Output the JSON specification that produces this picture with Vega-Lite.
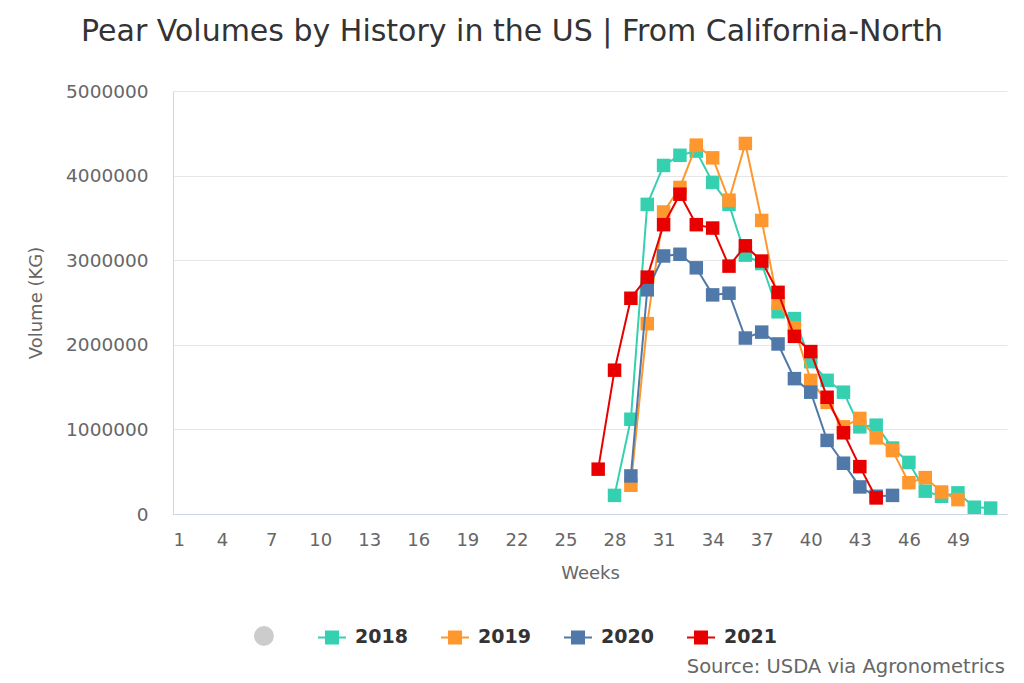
{
  "$schema": "https://vega.github.io/schema/vega-lite/v6.json",
  "width": 834,
  "height": 423,
  "autosize": {"type": "none"},
  "padding": {"left": 173, "top": 91, "right": 17, "bottom": 169},
  "background": "#ffffff",
  "title": {
    "text": "Pear Volumes by History in the US | From California-North",
    "font": "DejaVu Sans",
    "fontSize": 30,
    "fontWeight": "normal",
    "color": "#333333",
    "anchor": "middle",
    "frame": "group",
    "dx": -78,
    "offset": 35
  },
  "config": {
    "view": {"stroke": null},
    "font": "DejaVu Sans",
    "axis": {
      "labelFont": "DejaVu Sans",
      "titleFont": "DejaVu Sans",
      "labelFontSize": 18,
      "titleFontSize": 18,
      "labelColor": "#666666",
      "titleColor": "#666666",
      "titleFontWeight": "normal",
      "domainColor": "#ccd6eb",
      "domainWidth": 1,
      "ticks": false,
      "gridColor": "#e6e6e6",
      "gridWidth": 1
    }
  },
  "data": {
    "values": [
      {"year": "2018", "week": 28, "volume": 220000},
      {"year": "2018", "week": 29, "volume": 1120000},
      {"year": "2018", "week": 30, "volume": 3660000},
      {"year": "2018", "week": 31, "volume": 4120000},
      {"year": "2018", "week": 32, "volume": 4240000},
      {"year": "2018", "week": 33, "volume": 4290000},
      {"year": "2018", "week": 34, "volume": 3920000},
      {"year": "2018", "week": 35, "volume": 3660000},
      {"year": "2018", "week": 36, "volume": 3060000},
      {"year": "2018", "week": 37, "volume": 2960000},
      {"year": "2018", "week": 38, "volume": 2390000},
      {"year": "2018", "week": 39, "volume": 2310000},
      {"year": "2018", "week": 40, "volume": 1800000},
      {"year": "2018", "week": 41, "volume": 1580000},
      {"year": "2018", "week": 42, "volume": 1440000},
      {"year": "2018", "week": 43, "volume": 1030000},
      {"year": "2018", "week": 44, "volume": 1050000},
      {"year": "2018", "week": 45, "volume": 780000},
      {"year": "2018", "week": 46, "volume": 610000},
      {"year": "2018", "week": 47, "volume": 270000},
      {"year": "2018", "week": 48, "volume": 210000},
      {"year": "2018", "week": 49, "volume": 250000},
      {"year": "2018", "week": 50, "volume": 80000},
      {"year": "2018", "week": 51, "volume": 70000},
      {"year": "2019", "week": 29, "volume": 340000},
      {"year": "2019", "week": 30, "volume": 2250000},
      {"year": "2019", "week": 31, "volume": 3570000},
      {"year": "2019", "week": 32, "volume": 3860000},
      {"year": "2019", "week": 33, "volume": 4360000},
      {"year": "2019", "week": 34, "volume": 4210000},
      {"year": "2019", "week": 35, "volume": 3710000},
      {"year": "2019", "week": 36, "volume": 4380000},
      {"year": "2019", "week": 37, "volume": 3470000},
      {"year": "2019", "week": 38, "volume": 2490000},
      {"year": "2019", "week": 39, "volume": 2200000},
      {"year": "2019", "week": 40, "volume": 1580000},
      {"year": "2019", "week": 41, "volume": 1320000},
      {"year": "2019", "week": 42, "volume": 1030000},
      {"year": "2019", "week": 43, "volume": 1130000},
      {"year": "2019", "week": 44, "volume": 900000},
      {"year": "2019", "week": 45, "volume": 750000},
      {"year": "2019", "week": 46, "volume": 370000},
      {"year": "2019", "week": 47, "volume": 430000},
      {"year": "2019", "week": 48, "volume": 260000},
      {"year": "2019", "week": 49, "volume": 170000},
      {"year": "2020", "week": 29, "volume": 450000},
      {"year": "2020", "week": 30, "volume": 2650000},
      {"year": "2020", "week": 31, "volume": 3050000},
      {"year": "2020", "week": 32, "volume": 3070000},
      {"year": "2020", "week": 33, "volume": 2910000},
      {"year": "2020", "week": 34, "volume": 2590000},
      {"year": "2020", "week": 35, "volume": 2610000},
      {"year": "2020", "week": 36, "volume": 2080000},
      {"year": "2020", "week": 37, "volume": 2150000},
      {"year": "2020", "week": 38, "volume": 2010000},
      {"year": "2020", "week": 39, "volume": 1600000},
      {"year": "2020", "week": 40, "volume": 1440000},
      {"year": "2020", "week": 41, "volume": 870000},
      {"year": "2020", "week": 42, "volume": 600000},
      {"year": "2020", "week": 43, "volume": 320000},
      {"year": "2020", "week": 44, "volume": 210000},
      {"year": "2020", "week": 45, "volume": 220000},
      {"year": "2021", "week": 27, "volume": 530000},
      {"year": "2021", "week": 28, "volume": 1700000},
      {"year": "2021", "week": 29, "volume": 2550000},
      {"year": "2021", "week": 30, "volume": 2800000},
      {"year": "2021", "week": 31, "volume": 3420000},
      {"year": "2021", "week": 32, "volume": 3780000},
      {"year": "2021", "week": 33, "volume": 3420000},
      {"year": "2021", "week": 34, "volume": 3380000},
      {"year": "2021", "week": 35, "volume": 2930000},
      {"year": "2021", "week": 36, "volume": 3170000},
      {"year": "2021", "week": 37, "volume": 2990000},
      {"year": "2021", "week": 38, "volume": 2620000},
      {"year": "2021", "week": 39, "volume": 2100000},
      {"year": "2021", "week": 40, "volume": 1920000},
      {"year": "2021", "week": 41, "volume": 1380000},
      {"year": "2021", "week": 42, "volume": 960000},
      {"year": "2021", "week": 43, "volume": 560000},
      {"year": "2021", "week": 44, "volume": 190000}
    ]
  },
  "encoding": {
    "x": {
      "field": "week",
      "type": "quantitative",
      "title": "Weeks",
      "scale": {"domain": [1, 52], "nice": false, "zero": false},
      "axis": {
        "values": [1, 4, 7, 10, 13, 16, 19, 22, 25, 28, 31, 34, 37, 40, 43, 46, 49],
        "grid": false,
        "labelPadding": 17,
        "titlePadding": 15
      }
    },
    "y": {
      "field": "volume",
      "type": "quantitative",
      "title": "Volume (KG)",
      "scale": {"domain": [0, 5000000], "nice": false},
      "axis": {
        "values": [0, 1000000, 2000000, 3000000, 4000000, 5000000],
        "format": "d",
        "grid": true,
        "labelFontSize": 18.5,
        "labelPadding": 25,
        "titlePadding": 20
      }
    },
    "color": {
      "field": "year",
      "type": "nominal",
      "scale": {
        "domain": ["", "2018", "2019", "2020", "2021"],
        "range": ["#cccccc", "#35d0b0", "#ff972f", "#5079a9", "#e80000"]
      },
      "legend": {
        "title": null,
        "orient": "none",
        "direction": "horizontal",
        "legendX": 74,
        "legendY": 530,
        "padding": 0,
        "symbolSize": 784,
        "symbolStrokeWidth": 2,
        "labelFont": "DejaVu Sans",
        "labelFontSize": 19,
        "labelFontWeight": "bold",
        "labelColor": "#333333",
        "labelOffset": 8,
        "columnPadding": 29,
        "encode": {
          "symbols": {
            "update": {
              "shape": {"signal": "datum.value === '' ? 'M-0.5,0A0.64,0.64,0,1,0,0.78,0A0.64,0.64,0,1,0,-0.5,0Z' : 'M-1,0H1M-0.43,-0.43H0.43V0.43H-0.43Z'"},
              "fill": {"scale": "color", "field": "value"},
              "stroke": {"scale": "color", "field": "value"},
              "strokeWidth": {"value": 2},
              "opacity": {"value": 1},
              "fillOpacity": {"value": 1}
            }
          }
        }
      }
    }
  },
  "layer": [
    {"transform": [{"filter": "datum.year == '2018'"}], "mark": {"type": "line", "strokeWidth": 2}},
    {"transform": [{"filter": "datum.year == '2018'"}], "mark": {"type": "point", "shape": "square", "filled": true, "size": 182, "opacity": 1}},
    {"transform": [{"filter": "datum.year == '2019'"}], "mark": {"type": "line", "strokeWidth": 2}},
    {"transform": [{"filter": "datum.year == '2019'"}], "mark": {"type": "point", "shape": "square", "filled": true, "size": 182, "opacity": 1}},
    {"transform": [{"filter": "datum.year == '2020'"}], "mark": {"type": "line", "strokeWidth": 2}},
    {"transform": [{"filter": "datum.year == '2020'"}], "mark": {"type": "point", "shape": "square", "filled": true, "size": 182, "opacity": 1}},
    {"transform": [{"filter": "datum.year == '2021'"}], "mark": {"type": "line", "strokeWidth": 2}},
    {"transform": [{"filter": "datum.year == '2021'"}], "mark": {"type": "point", "shape": "square", "filled": true, "size": 182, "opacity": 1}},
    {
      "data": {"values": [{"caption": "Source: USDA via Agronometrics"}]},
      "mark": {
        "type": "text",
        "align": "right",
        "baseline": "alphabetic",
        "font": "DejaVu Sans",
        "fontSize": 19.5,
        "color": "#666666",
        "dx": -2,
        "dy": 159
      },
      "encoding": {
        "x": {"value": "width"},
        "y": {"value": "height"},
        "text": {"field": "caption", "type": "nominal"},
        "color": {"value": "#666666"}
      }
    }
  ]
}
